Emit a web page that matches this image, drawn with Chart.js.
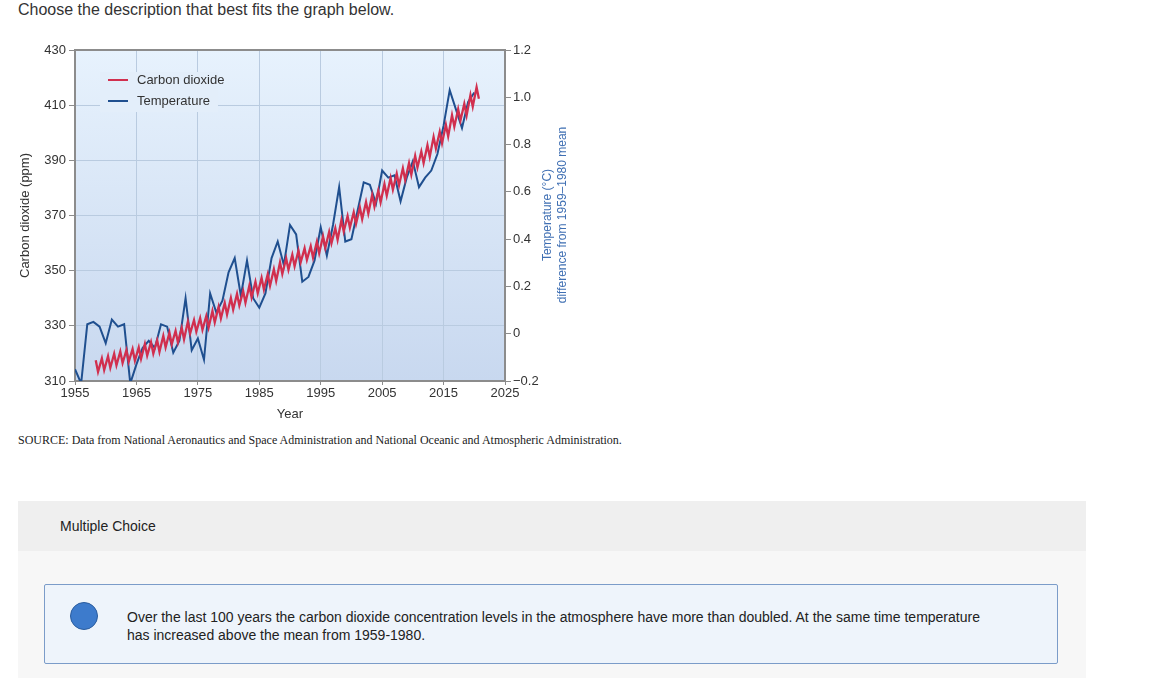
<!DOCTYPE html>
<html>
<head>
<meta charset="utf-8">
<script src="https://cdn.jsdelivr.net/npm/chart.js@4.4.1/dist/chart.umd.min.js"></script>
<style>
  body { margin: 0; background: #fff; font-family: "Liberation Sans", Arial, sans-serif; color: #333; }
  .question { position: absolute; left: 18px; top: 1px; font-size: 16px; color: #333; }
  .chart-wrap { position: absolute; left: 0; top: 30px; width: 600px; height: 400px; }
  .right-title { position: absolute; left: 555px; top: 215px; width: 0; height: 0; }
  .right-title div { position: absolute; transform: translate(-50%, -50%) rotate(-90deg); white-space: nowrap; font-size: 12px; color: #3f6fb3; line-height: 15px; text-align: center; left: 0; top: 0; }
  .source { position: absolute; left: 18px; top: 433px; font-family: "Liberation Serif", "Times New Roman", serif; font-size: 12px; color: #222; }
  .panel { position: absolute; left: 18px; top: 501px; width: 1068px; height: 177px; background: #f7f7f7; }
  .panel-head { height: 50px; background: #efefef; font-size: 14px; color: #222; line-height: 50px; padding-left: 42px; }
  .answer { position: absolute; left: 26px; top: 83px; width: 1012px; height: 78px; background: #eef4fb; border: 1px solid #7b9cc9; border-radius: 2px; }
  .dot { position: absolute; left: 25px; top: 17px; width: 26px; height: 26px; border-radius: 50%; background: #3d7bcc; border: 1px solid #2a5c9e; }
  .answer-text { position: absolute; left: 82px; top: 23px; width: 870px; font-size: 14px; line-height: 18px; color: #222; }
</style>
</head>
<body>
<div class="question">Choose the description that best fits the graph below.</div>
<div class="chart-wrap"><canvas id="chart" width="600" height="400"></canvas></div>
<div class="right-title">
  <div style="left:-8px">Temperature (°C)</div>
  <div style="left:7px">difference from 1959–1980 mean</div>
</div>
<div class="source">SOURCE: Data from National Aeronautics and Space Administration and National Oceanic and Atmospheric Administration.</div>
<div class="panel">
  <div class="panel-head">Multiple Choice</div>
  <div class="answer">
    <div class="dot"></div>
    <div class="answer-text">Over the last 100 years the carbon dioxide concentration levels in the atmosphere have more than doubled. At the same time temperature has increased above the mean from 1959-1980.</div>
  </div>
</div>
<script>
// CO2 (ppm): yearly seasonal high (May) and low (Sept/Oct)
const co2Years = [1958,1959,1960,1961,1962,1963,1964,1965,1966,1967,1968,1969,1970,1971,1972,1973,1974,1975,1976,1977,1978,1979,
    1980,1981,1982,1983,1984,1985,1986,1987,1988,1989,1990,1991,1992,1993,1994,1995,1996,1997,1998,1999,
    2000,2001,2002,2003,2004,2005,2006,2007,2008,2009,2010,2011,2012,2013,2014,2015,2016,2017,2018,2019,2020];
const co2High = [317.5,318.2,319.0,319.9,320.7,321.2,321.6,322.2,323.4,324.1,324.8,326.4,327.5,328.2,329.3,331.5,332.1,332.8,333.6,335.4,336.9,338.3,
    340.1,341.6,342.6,344.5,346.0,347.4,348.7,350.5,353.0,354.5,355.8,357.3,358.1,358.9,360.5,362.5,364.1,365.4,368.4,369.8,
    371.2,372.9,374.9,377.4,379.0,381.4,383.6,385.2,387.1,389.0,391.6,393.2,395.5,398.5,400.4,402.9,406.4,408.6,410.5,413.7,416.5];
const co2Low = [313.3,314.0,314.8,315.7,316.5,317.0,317.4,318.0,319.2,319.9,320.6,322.2,323.3,324.0,325.1,327.3,327.9,328.6,329.4,331.2,332.7,334.1,
    335.9,337.4,338.4,340.3,341.8,343.2,344.5,346.3,348.8,350.3,351.6,353.1,353.9,354.7,356.3,358.3,359.9,361.2,364.2,365.6,
    367.0,368.7,370.7,373.2,374.8,377.2,379.4,381.0,382.9,384.8,387.4,389.0,391.3,394.3,396.2,398.7,402.2,404.4,406.3,409.5,412.3];
const highMonth = 5;
const lowMonth = 9.5;

// Temperature difference from 1959-1980 mean (°C)
const tempYears = [1955,1956,1957,1958,1959,1960,1961,1962,1963,1964,1965,1966,1967,1968,1969,1970,1971,1972,1973,1974,1975,1976,1977,1978,1979,
    1980,1981,1982,1983,1984,1985,1986,1987,1988,1989,1990,1991,1992,1993,1994,1995,1996,1997,1998,1999,
    2000,2001,2002,2003,2004,2005,2006,2007,2008,2009,2010,2011,2012,2013,2014,2015,2016,2017,2018,2019,2020];
const tempValues = [-0.15,-0.21,0.04,0.05,0.03,-0.04,0.06,0.03,0.04,-0.21,-0.13,-0.06,-0.03,-0.06,0.04,0.03,-0.08,-0.03,0.15,-0.07,-0.02,-0.11,0.17,0.09,0.14,
    0.26,0.32,0.16,0.31,0.15,0.11,0.17,0.32,0.39,0.29,0.46,0.42,0.22,0.24,0.31,0.45,0.33,0.46,0.62,0.39,
    0.40,0.52,0.64,0.63,0.55,0.69,0.66,0.67,0.56,0.66,0.73,0.62,0.66,0.69,0.76,0.88,1.03,0.95,0.87,0.98,1.02];

// Axis ranges
const yearMin = 1955, yearMax = 2025, yearStep = 10;
const co2Min = 310, co2Max = 430, co2Step = 20;
const tempMin = -0.2, tempMax = 1.2, tempStep = 0.2;

// Colors
const red = '#d12f4e';
const blue = '#1f4f8f';
const gridColor = '#b9cbe0';
const axisColor = '#8c8c8c';
const textColor = '#333';
const fontFamily = '"Liberation Sans", Arial, sans-serif';

const co2Points = [];
co2Years.forEach((yr, i) => {
    co2Points.push({ x: yr + (highMonth - 0.5) / 12, y: co2High[i] });
    co2Points.push({ x: yr + (lowMonth - 0.5) / 12, y: co2Low[i] });
});
const tempPoints = tempYears.map((yr, i) => ({ x: yr, y: tempValues[i] }));

// background gradient, top border and legend box
const plotDecor = {
    id: 'plotDecor',
    beforeDraw(chart) {
        const { ctx, chartArea: a } = chart;
        const g = ctx.createLinearGradient(0, a.top, 0, a.bottom);
        g.addColorStop(0, '#e7f2fd');
        g.addColorStop(1, '#c8d8ef');
        ctx.save();
        ctx.fillStyle = g;
        ctx.fillRect(a.left, a.top, a.right - a.left, a.bottom - a.top);
        ctx.restore();
    },
    afterDatasetsDraw(chart) {
        const { ctx, chartArea: a } = chart;
        ctx.save();
        // top border
        ctx.strokeStyle = axisColor;
        ctx.lineWidth = 2;
        ctx.beginPath();
        ctx.moveTo(a.left, a.top);
        ctx.lineTo(a.right, a.top);
        ctx.stroke();
        // legend
        const lx = a.left + 25, ly = a.top + 22;
        ctx.fillStyle = '#e3eefa';
        ctx.fillRect(lx, ly, 118, 40);
        const items = [['Carbon dioxide', red], ['Temperature', blue]];
        ctx.font = '13px ' + fontFamily;
        ctx.textBaseline = 'middle';
        items.forEach(([label, color], i) => {
            const y = ly + 8 + i * 21;
            ctx.strokeStyle = color;
            ctx.lineWidth = 2;
            ctx.beginPath();
            ctx.moveTo(lx + 8, y);
            ctx.lineTo(lx + 28, y);
            ctx.stroke();
            ctx.fillStyle = textColor;
            ctx.fillText(label, lx + 37, y);
        });
        ctx.restore();
    }
};

new Chart(document.getElementById('chart'), {
    type: 'line',
    data: {
        datasets: [
            {
                label: 'Carbon dioxide',
                data: co2Points,
                yAxisID: 'y',
                borderColor: red,
                borderWidth: 2.3,
                pointRadius: 0,
                tension: 0
            },
            {
                label: 'Temperature',
                data: tempPoints,
                yAxisID: 'y1',
                borderColor: blue,
                borderWidth: 2,
                pointRadius: 0,
                tension: 0
            }
        ]
    },
    options: {
        responsive: false,
        animation: false,
        layout: { padding: { top: 20, left: 0, right: 0, bottom: 0 } },
        plugins: {
            legend: { display: false },
            tooltip: { enabled: false }
        },
        scales: {
            x: {
                type: 'linear',
                min: yearMin,
                max: yearMax,
                afterFit: s => { s.height = 49; },
                ticks: {
                    stepSize: yearStep,
                    color: textColor,
                    padding: 1,
                    maxRotation: 0,
                    font: { family: fontFamily, size: 13 },
                    callback: v => String(v)
                },
                grid: { color: gridColor, tickColor: axisColor, tickLength: 4 },
                border: { color: axisColor, width: 2 },
                title: {
                    display: true,
                    text: 'Year',
                    color: textColor,
                    font: { family: fontFamily, size: 13 },
                    padding: { top: 0, bottom: 8 }
                }
            },
            y: {
                position: 'left',
                min: co2Min,
                max: co2Max,
                afterFit: s => { s.width = 75; },
                ticks: {
                    stepSize: co2Step,
                    color: textColor,
                    padding: 3,
                    font: { family: fontFamily, size: 13 }
                },
                grid: { color: gridColor, tickColor: axisColor, tickLength: 6 },
                border: { color: axisColor, width: 2 },
                title: {
                    display: true,
                    text: 'Carbon dioxide (ppm)',
                    color: textColor,
                    font: { family: fontFamily, size: 13 },
                    padding: { top: 18, bottom: 0 }
                }
            },
            y1: {
                position: 'right',
                min: tempMin,
                max: tempMax,
                afterFit: s => { s.width = 95; },
                ticks: {
                    stepSize: tempStep,
                    color: textColor,
                    padding: 2,
                    font: { family: fontFamily, size: 13 },
                    callback: v => {
                        const r = Math.round(v * 10) / 10;
                        if (r === 0) return '0';
                        return r < 0 ? '\u2212' + Math.abs(r).toFixed(1) : r.toFixed(1);
                    }
                },
                grid: { drawOnChartArea: false, tickColor: axisColor, tickLength: 6 },
                border: { color: axisColor, width: 2 }
            }
        }
    },
    plugins: [plotDecor]
});
</script>
</body>
</html>
